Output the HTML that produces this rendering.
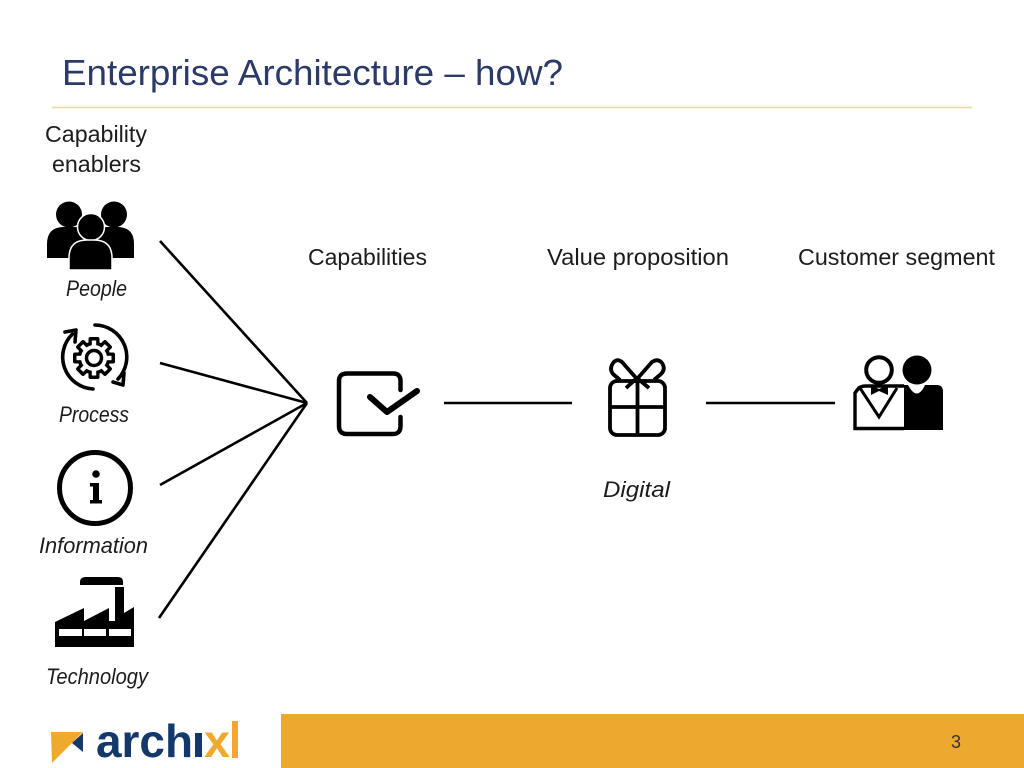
<!DOCTYPE html>
<html>
<head>
<meta charset="utf-8">
<style>
html,body{margin:0;padding:0;background:#fff;width:1024px;height:768px;overflow:hidden}
svg{display:block}
text{font-family:"Liberation Sans",sans-serif;fill:#1c1c1c}
.l{font-size:23.5px}
.i{font-size:22.5px;font-style:italic}
</style>
</head>
<body>
<svg width="1024" height="768" viewBox="0 0 1024 768" xmlns="http://www.w3.org/2000/svg">
<rect width="1024" height="768" fill="#fff"/>
<text x="62" y="85" font-size="36" style="fill:#2b3a67" textLength="501" lengthAdjust="spacingAndGlyphs">Enterprise Architecture – how?</text>
<line x1="52" y1="107.5" x2="972" y2="107.5" stroke="#efd7a0" stroke-width="1.5"/>

<text class="l" x="45" y="142" textLength="102" lengthAdjust="spacingAndGlyphs">Capability</text>
<text class="l" x="52" y="172" textLength="89" lengthAdjust="spacingAndGlyphs">enablers</text>
<text class="i" x="66" y="296" textLength="61" lengthAdjust="spacingAndGlyphs">People</text>
<text class="i" x="59" y="422" textLength="70" lengthAdjust="spacingAndGlyphs">Process</text>
<text class="i" x="39" y="553" textLength="109" lengthAdjust="spacingAndGlyphs">Information</text>
<text class="i" x="46" y="684" textLength="102" lengthAdjust="spacingAndGlyphs">Technology</text>
<text class="l" x="308" y="265" textLength="119" lengthAdjust="spacingAndGlyphs">Capabilities</text>
<text class="l" x="547" y="265" textLength="182" lengthAdjust="spacingAndGlyphs">Value proposition</text>
<text class="l" x="798" y="265" textLength="197" lengthAdjust="spacingAndGlyphs">Customer segment</text>
<text class="i" x="603" y="497" textLength="67" lengthAdjust="spacingAndGlyphs">Digital</text>

<g stroke="#000" stroke-width="2.6" fill="none">
<line x1="160" y1="241" x2="307" y2="403"/>
<line x1="160" y1="363" x2="307" y2="403"/>
<line x1="160" y1="485" x2="307" y2="403"/>
<line x1="159" y1="618" x2="307" y2="403"/>
<line x1="444" y1="403" x2="572" y2="403"/>
<line x1="706" y1="403" x2="835" y2="403"/>
</g>

<!-- People -->
<g>
<circle cx="69" cy="214.500" r="13" fill="#000"/>
<circle cx="114" cy="214.500" r="13" fill="#000"/>
<path d="M47 258V244Q47 227 64 227H117Q134 227 134 244V258Z" fill="#000"/>
<circle cx="91" cy="227" r="13.500" fill="#000" stroke="#fff" stroke-width="1.5"/>
<path d="M69 270V258Q69 240 87 240H94Q112 240 112 258V270Z" fill="#000" stroke="#fff" stroke-width="1.5"/>
</g>

<!-- Process -->
<g fill="none" stroke="#000" stroke-width="3.600" stroke-linecap="round" stroke-linejoin="round">
<path d="M93 389A32 32 0 0 1 72.500 334"/>
<path d="M65 332L76 330L75 342"/>
<path d="M95 325A32 32 0 0 1 118 379"/>
<path d="M113 382L123 385L124 373"/>
</g>
<g transform="translate(94 358)">
<g fill="#000">
<rect x="-5.500" y="-21" width="11" height="42" rx="2"/>
<rect x="-5.500" y="-21" width="11" height="42" rx="2" transform="rotate(45)"/>
<rect x="-5.500" y="-21" width="11" height="42" rx="2" transform="rotate(90)"/>
<rect x="-5.500" y="-21" width="11" height="42" rx="2" transform="rotate(135)"/>
<circle r="16.500"/>
</g>
<g fill="#fff">
<rect x="-2.200" y="-17.500" width="4.400" height="35"/>
<rect x="-2.200" y="-17.500" width="4.400" height="35" transform="rotate(45)"/>
<rect x="-2.200" y="-17.500" width="4.400" height="35" transform="rotate(90)"/>
<rect x="-2.200" y="-17.500" width="4.400" height="35" transform="rotate(135)"/>
<circle r="13"/>
</g>
<circle r="7.500" fill="none" stroke="#000" stroke-width="3.500"/>
</g>

<!-- Information -->
<circle cx="95" cy="488" r="35.500" fill="#fff" stroke="#000" stroke-width="5"/>
<circle cx="96" cy="474" r="3.800" fill="#000"/>
<path d="M90 483H99V500H102V503.500H90V500H93V486.500H90Z" fill="#000"/>

<!-- Technology -->
<path d="M80 585V582Q80 577 86 577H118Q123 577 123 582V585Z" fill="#000"/>
<path d="M55 622L84 608V621L109 608V621H115V587H124V613L134 607V647H55Z" fill="#000"/>
<g fill="#fff">
<rect x="59" y="629" width="23" height="7"/>
<rect x="84" y="629" width="22" height="7"/>
<rect x="109" y="629" width="22" height="7"/>
</g>

<!-- Check box -->
<path d="M400.500 390V381Q400.500 373.500 393 373.500H347Q339 373.500 339 381V426Q339 434 347 434H393Q400.500 434 400.500 426V417" fill="none" stroke="#000" stroke-width="4.500" stroke-linecap="round"/>
<path d="M370 397L387 412L417 391" fill="none" stroke="#000" stroke-width="6" stroke-linecap="round" stroke-linejoin="round"/>

<!-- Gift -->
<g fill="none" stroke="#000" stroke-width="3.800" stroke-linejoin="round">
<rect x="610" y="381" width="55" height="54" rx="7"/>
<line x1="637.500" y1="378" x2="637.500" y2="436"/>
<line x1="610" y1="407" x2="665" y2="407"/>
<path d="M637 379L622 362Q617 358 613 363Q609 369 613 374L620 380"/>
<path d="M637 379L652 362Q658 358 662 363Q666 369 661 374L654 380"/>
<path d="M637 378L626 388M637 378L649 388"/>
</g>

<!-- Customer -->
<circle cx="879" cy="370" r="12.800" fill="#fff" stroke="#000" stroke-width="4"/>
<circle cx="917" cy="370" r="14.500" fill="#000"/>
<path d="M903 385H937Q943 385 943 392V430H903Z" fill="#000"/>
<path d="M904 386H866Q860 386 858 389L855 393V428.500H904" fill="#fff" stroke="#000" stroke-width="3.400"/>
<path d="M908 385Q917 402 925 385Z" fill="#fff"/>
<path d="M860 388L879 417L897 388" fill="none" stroke="#000" stroke-width="3"/>
<path d="M871 385L879 389L888 385V395L879 391L871 395Z" fill="#000"/>

<!-- Logo -->
<polygon points="51,732 83,732 52,763" fill="#efa92c"/>
<polygon points="83,733 83,752 72,743" fill="#15386b"/>
<text x="96" y="757" font-size="46" font-weight="700" style="fill:#15386b" textLength="97" lengthAdjust="spacingAndGlyphs">arch</text>
<rect x="195" y="733" width="7" height="24" fill="#15386b"/>
<text x="204" y="757" font-size="46" font-weight="700" style="fill:#efa92c" textLength="26" lengthAdjust="spacingAndGlyphs">x</text>
<rect x="232" y="721" width="6" height="37" fill="#efa92c"/>

<!-- Footer -->
<rect x="281" y="714" width="743" height="54" fill="#eda82f"/>
<text x="951" y="748" font-size="18" style="fill:#333">3</text>
</svg>
</body>
</html>
